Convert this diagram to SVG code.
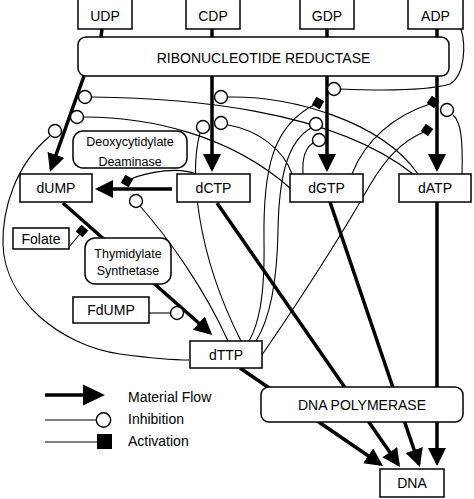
<svg xmlns="http://www.w3.org/2000/svg" width="474" height="499" viewBox="0 0 474 499">
<style>
.box{fill:#fff;stroke:#000;stroke-width:1.5}
.t{font-family:"Liberation Sans",Arial,sans-serif;font-size:14px;text-anchor:middle;fill:#000}
.s{font-size:12.5px}
.l{text-anchor:start}
.flow{fill:none;stroke:#000;stroke-width:3.5}
.arr{marker-end:url(#ah)}
.thin{fill:none;stroke:#000;stroke-width:1.1}
.inh{fill:#fff;stroke:#000;stroke-width:1.4}
.act{fill:#000}
</style>
<defs>
<marker id="ah" markerUnits="userSpaceOnUse" markerWidth="20" markerHeight="20" refX="15" refY="9" orient="auto"><path d="M0,0 L18,9 L0,18 z" fill="#000"/></marker>
<rect id="sq" x="-4.5" y="-4.5" width="9" height="9"/>
</defs>
<rect x="0" y="0" width="474" height="499" fill="#fff"/>
<g id="connectors">
<path class="flow" d="M102,29 L101,37"/>
<path class="flow arr" d="M84,76 L51,169"/>
<path class="flow" d="M212,29 L212,37"/>
<path class="flow arr" d="M212,76 L212,169"/>
<path class="flow" d="M327,29 L327,37"/>
<path class="flow arr" d="M327,76 L327,169"/>
<path class="flow" d="M437,29 L437,37"/>
<path class="flow arr" d="M437,76 L437,169"/>
<path class="flow arr" d="M172,189 L98,189"/>
<path class="flow arr" d="M63,203 L210,333"/>
<path class="flow arr" d="M240,368 L380.5,464.3"/>
<path class="flow arr" d="M217,203 L398.3,464.5"/>
<path class="flow arr" d="M330,202 L419,464.2"/>
<path class="flow arr" d="M437,202 L437,463"/>
<path class="thin" d="M92,97 C180,98 330,108 413,174"/>
<path class="thin" d="M228,97 C290,96 380,120 418,174"/>
<path class="thin" d="M84,117 C150,117 230,135 290,188"/>
<path class="thin" d="M228,125 C258,130 284,150 292,174"/>
<path class="thin" d="M303,174 C302,158 305,148 313,143"/>
<path class="thin" d="M50,136 C15,165 2,210 3,245 C5,300 60,345 120,354 C150,358 170,360 189,360"/>
<path class="thin" d="M140,206 C170,240 205,290 228,341"/>
<path class="thin" d="M200,133 C190,170 195,250 241,341"/>
<path class="thin" d="M316,104 C272,125 263,170 264,240 C265,300 258,325 249,341"/>
<path class="thin" d="M311,128 C290,140 279,170 278,230 C277,295 266,325 256,341"/>
<path class="thin" d="M262,355 C310,285 350,220 370,185 C385,160 400,142 424,132"/>
<path class="thin" d="M352,174 C365,140 395,115 430,104"/>
<path class="thin" d="M462,174 C463,140 461,122 453,115"/>
<path class="thin" d="M341,89 C390,91 430,90 450,84 C465,75 466,45 461,29"/>
<path class="thin" d="M131,179 C150,171 180,167 196,174"/>
<path class="thin" d="M69,247 L80,234"/>
<path class="thin" d="M149,313 L170,313"/>
<circle class="inh" cx="85" cy="97" r="6.5"/>
<circle class="inh" cx="77" cy="117" r="6.5"/>
<circle class="inh" cx="55" cy="131" r="6.5"/>
<circle class="inh" cx="221" cy="97" r="6.5"/>
<circle class="inh" cx="221" cy="123" r="6.5"/>
<circle class="inh" cx="203" cy="127" r="6.5"/>
<circle class="inh" cx="334" cy="89" r="6.5"/>
<circle class="inh" cx="316" cy="124" r="6.5"/>
<circle class="inh" cx="319" cy="140" r="6.5"/>
<circle class="inh" cx="447" cy="110" r="6.5"/>
<circle class="inh" cx="136" cy="201" r="6.5"/>
<circle class="inh" cx="177" cy="313" r="6.5"/>
<use href="#sq" class="act" transform="translate(127,181) rotate(30)"/>
<use href="#sq" class="act" transform="translate(318,103) rotate(30)"/>
<use href="#sq" class="act" transform="translate(433,102) rotate(35)"/>
<use href="#sq" class="act" transform="translate(427,130) rotate(35)"/>
<use href="#sq" class="act" transform="translate(82,231) rotate(40)"/>
</g>
<g id="udp"><rect class="box" x="78" y="-1" width="54" height="30"/><text class="t" x="105" y="20.5">UDP</text></g>
<g id="cdp"><rect class="box" x="186" y="-1" width="54" height="30"/><text class="t" x="213" y="20.5">CDP</text></g>
<g id="gdp"><rect class="box" x="300" y="-1" width="54" height="30"/><text class="t" x="327" y="20.5">GDP</text></g>
<g id="adp"><rect class="box" x="408" y="-1" width="55" height="30"/><text class="t" x="435.5" y="20.5">ADP</text></g>
<g id="reductase"><rect class="box" x="78" y="37" width="371" height="39" rx="8"/><text class="t" x="263.5" y="63">RIBONUCLEOTIDE REDUCTASE</text></g>
<g id="deaminase"><rect class="box" x="73" y="131" width="114" height="37" rx="10"/><text class="t s" x="130" y="146">Deoxycytidylate</text><text class="t s" x="130" y="166">Deaminase</text></g>
<g id="dump"><rect class="box" x="20" y="174" width="72" height="28"/><text class="t" x="56" y="193">dUMP</text></g>
<g id="dctp"><rect class="box" x="177" y="174" width="73" height="28"/><text class="t" x="213.5" y="193">dCTP</text></g>
<g id="dgtp"><rect class="box" x="290" y="174" width="73" height="28"/><text class="t" x="326.5" y="193">dGTP</text></g>
<g id="datp"><rect class="box" x="399" y="174" width="72" height="28"/><text class="t" x="435" y="193">dATP</text></g>
<g id="folate"><rect class="box" x="13" y="228" width="56" height="21"/><text class="t" x="41" y="244">Folate</text></g>
<g id="synthetase"><rect class="box" x="85" y="238" width="86" height="46" rx="10"/><text class="t s" x="128" y="258">Thymidylate</text><text class="t s" x="128" y="275">Synthetase</text></g>
<g id="fdump"><rect class="box" x="73" y="297" width="76" height="26"/><text class="t" x="111" y="315">FdUMP</text></g>
<g id="dttp"><rect class="box" x="190" y="341" width="72" height="27"/><text class="t" x="226" y="360">dTTP</text></g>
<g id="polymerase"><rect class="box" x="261" y="387" width="202" height="35" rx="8"/><text class="t" x="362" y="410">DNA POLYMERASE</text></g>
<g id="dna"><rect class="box" x="380" y="469" width="64" height="28"/><text class="t" x="412" y="488">DNA</text></g>
<g id="legend">
<path class="flow" d="M45,395 L84,395"/>
<polygon points="83,384.5 105,395 83,405.5" fill="#000"/>
<text class="t l" x="128" y="402">Material Flow</text>
<path class="thin" d="M45,420 L96,420"/>
<circle class="inh" cx="103.5" cy="420" r="7.2"/>
<text class="t l" x="128" y="424">Inhibition</text>
<path class="thin" d="M45,442 L97,442"/>
<rect x="97" y="434" width="15" height="15" fill="#000"/>
<text class="t l" x="128" y="446">Activation</text>
</g>
</svg>
